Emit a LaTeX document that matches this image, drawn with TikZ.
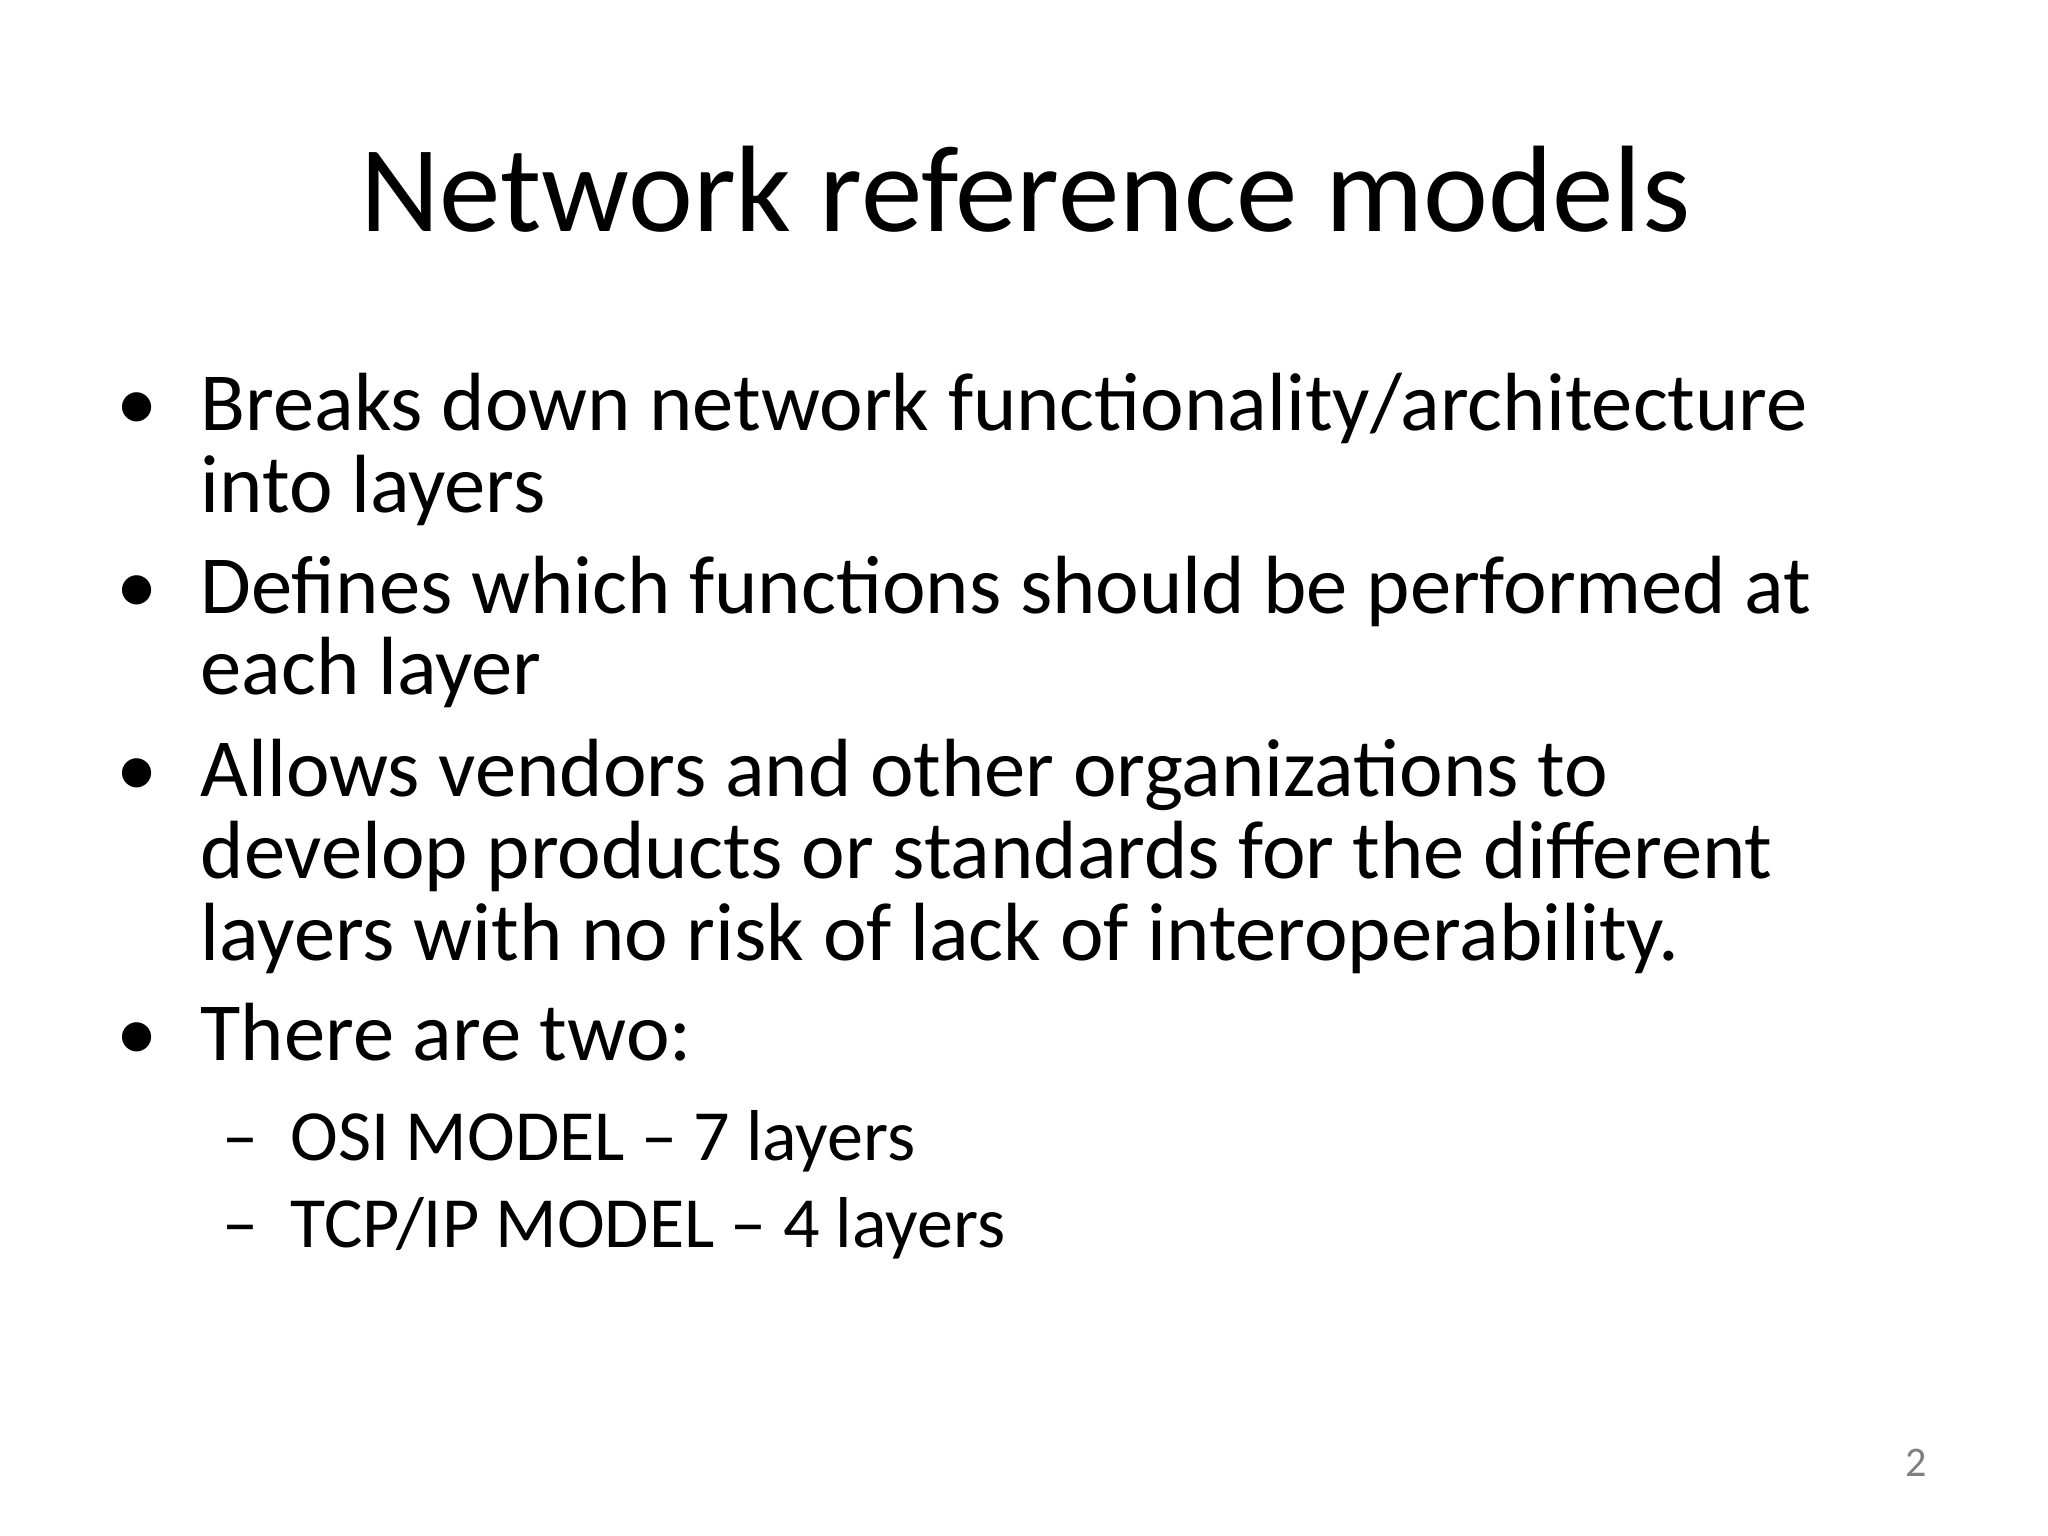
\documentclass[tikz,border=0pt]{standalone}
\usepackage{fontspec}
\setmainfont{Carlito}
\begin{document}
\begin{tikzpicture}[x=1cm,y=1cm,
  body/.style={anchor=base west,inner sep=0pt,font=\fontsize{23.5}{28}\selectfont},
  sub/.style={anchor=base west,inner sep=0pt,font=\fontsize{20.5}{24}\selectfont},
  bul/.style={anchor=base,inner sep=0pt,font=\fontsize{23.5}{28}\selectfont}]
\useasboundingbox (0,0) rectangle (20.48,-15.36);
\fill[white] (0,0) rectangle (20.48,-15.36);
\node[anchor=base,inner sep=0pt,font=\fontsize{35}{40}\selectfont] (title) at (10.25,-2.32) {Network reference models};
\node[bul] (b1) at (1.37,-4.31) {•};
\node[body] (l1) at (2.0,-4.31) {Breaks down network functionality/architecture};
\node[body] (l2) at (2.0,-5.12) {into layers};
\node[bul] (b2) at (1.37,-6.14) {•};
\node[body] (l3) at (2.0,-6.14) {Defines which functions should be performed at};
\node[body] (l4) at (2.0,-6.95) {each layer};
\node[bul] (b3) at (1.37,-7.97) {•};
\node[body] (l5) at (2.0,-7.97) {Allows vendors and other organizations to};
\node[body] (l6) at (2.0,-8.78) {develop products or standards for the different};
\node[body] (l7) at (2.0,-9.60) {layers with no risk of lack of interoperability.};
\node[bul] (b4) at (1.37,-10.60) {•};
\node[body] (l8) at (2.0,-10.60) {There are two:};
\node[sub] (d1) at (2.22,-11.60) {–};
\node[sub] (s1) at (2.90,-11.60) {OSI MODEL – 7 layers};
\node[sub] (d2) at (2.22,-12.47) {–};
\node[sub] (s2) at (2.90,-12.47) {TCP/IP MODEL – 4 layers};
\node[anchor=base,inner sep=0pt,text=gray,font=\fontsize{12}{14}\selectfont] (pg) at (19.16,-14.76) {2};
\end{tikzpicture}
\end{document}
